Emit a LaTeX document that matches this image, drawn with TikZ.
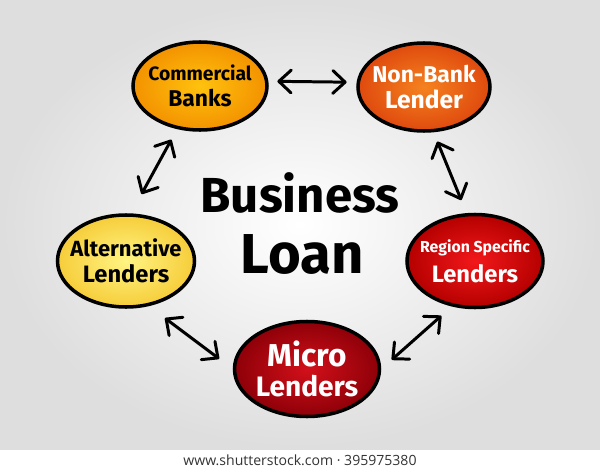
\documentclass[tikz,border=0pt]{standalone}
\usepackage{fontspec}
\setmainfont{Fira Sans}
\setsansfont{Open Sans}
\usetikzlibrary{shapes.geometric,arrows.meta}
\definecolor{cbin}{HTML}{FFC20E}
\definecolor{cbout}{HTML}{F39200}
\definecolor{nbin}{HTML}{F5821F}
\definecolor{nbout}{HTML}{DF4A0E}
\definecolor{rsin}{HTML}{F2181A}
\definecolor{rsout}{HTML}{B50000}
\definecolor{miin}{HTML}{D2101A}
\definecolor{miout}{HTML}{8E0008}
\definecolor{altin}{HTML}{FFF483}
\definecolor{altout}{HTML}{F6CD3A}
\newcommand{\txtsize}[1]{\fontsize{#1}{#1}\selectfont}

\begin{document}
\begin{tikzpicture}[auto,
  bubble/.style={ellipse,draw=black,line width=2pt},
  lbl/.style={align=center,font=\bfseries}]
   % background
   \useasboundingbox (0,0) rectangle (12,9.4);
   \fill[white] (0,0) rectangle (12,0.42);
   \shade[inner color=white,outer color=black!13] (0,0.42) rectangle (12,9.4);
   \begin{scope}[every node/.style={bubble}]
    \node[minimum width=2.68cm,minimum height=1.76cm,inner color=cbin,outer color=cbout] (cb) at (4.0,7.68) {};
    \node[minimum width=2.64cm,minimum height=1.76cm,inner color=nbin,outer color=nbout] (nb) at (8.48,7.66) {};
    \node[minimum width=2.72cm,minimum height=1.86cm,inner color=rsin,outer color=rsout] (rs) at (9.5,4.18) {};
    \node[minimum width=2.9cm,minimum height=1.9cm,inner color=miin,outer color=miout] (mi) at (6.14,2.02) {};
    \node[minimum width=2.74cm,minimum height=1.84cm,inner color=altin,outer color=altout] (alt) at (2.52,4.18) {};
   \end{scope}
   \node[lbl] (cb-t) at (cb) {\txtsize{11}Commercial\\[3pt]\txtsize{13}Banks};
   \node[lbl,text=white] (nb-t) at (nb) {\txtsize{13}Non-Bank\\[3pt]\txtsize{14}Lender};
   \node[lbl,text=white] (rs-t) at (rs) {\txtsize{9}Region Specific\\[4pt]\txtsize{13.5}Lenders};
   \node[lbl,text=white] (mi-t) at (mi) {\txtsize{18}Micro\\[4pt]\txtsize{16}Lenders};
   \node[lbl] (alt-t) at (alt) {\txtsize{12.5}Alternative\\[3pt]\txtsize{13.5}Lenders};
   \node[lbl,font=\bfseries\txtsize{28}] (title) at (6.0,5.54) {Business};
   \node[lbl,font=\bfseries\txtsize{32}] (title2) at (6.04,4.32) {Loan};
   \begin{scope}[every edge/.style={draw=black,line width=1.7pt,line cap=round,
       >={Straight Barb[round,length=7pt,width=13pt]},<->}]
    \draw  (cb.4) edge[shorten <=0.18cm,shorten >=0.2cm] (nb.176);
    \draw  (cb.-118) edge[shorten <=0.24cm,shorten >=0.44cm] (alt.84);
    \draw  (nb.-78) edge[shorten <=0.2cm,shorten >=0.28cm] (rs.100);
    \draw  (alt.-63) edge[shorten <=0.4cm,shorten >=0.34cm] (mi.west);
    \draw  (rs.-117) edge[shorten <=0.28cm,shorten >=0.28cm] (mi.east);
   \end{scope}
   \node[font=\sffamily\txtsize{8},text=black!80] (src) at (6,0.2) {www.shutterstock.com · 395975380};
\end{tikzpicture}
\end{document}
